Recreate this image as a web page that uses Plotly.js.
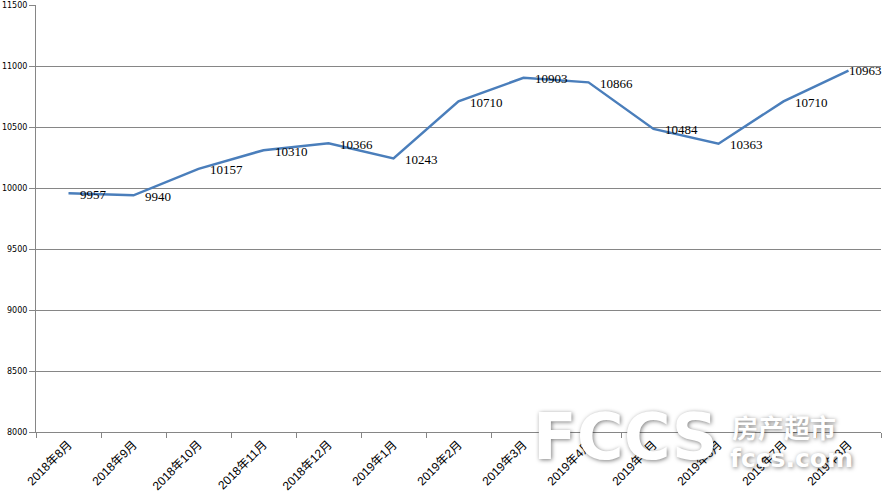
<!DOCTYPE html>
<html>
<head>
<meta charset="utf-8">
<script src="https://cdn.plot.ly/plotly-3.0.1.min.js"></script>
<style>
  html, body { margin: 0; padding: 0; background: #fff; }
  #chart { width: 884px; height: 502px; }
</style>
</head>
<body>
<div id="chart"></div>
<script>
// Monthly average price, Aug 2018 – Aug 2019
const months = ['2018年8月', '2018年9月', '2018年10月', '2018年11月', '2018年12月',
  '2019年1月', '2019年2月', '2019年3月', '2019年4月', '2019年5月',
  '2019年6月', '2019年7月', '2019年8月'];
const prices = [9957, 9940, 10157, 10310, 10366, 10243, 10710, 10903, 10866, 10484, 10363, 10710, 10963];
const yTicks = [8000, 8500, 9000, 9500, 10000, 10500, 11000, 11500];

const axisGray = '#868686';
const shadow = '1px 1px 4px rgba(0,0,0,0.5)';

const trace = {
  x: months,
  y: prices,
  type: 'scatter',
  mode: 'lines',
  line: { color: '#4A7EBB', width: 2.5, shape: 'linear' },
  hoverinfo: 'skip'
};

// value labels sit just to the right of each point; the last one is
// pulled back so it stays inside the chart's right edge
const lastIdx = months.length - 1;
const valueLabels = months.map((m, i) => ({
  x: m,
  y: prices[i],
  xref: 'x', yref: 'y',
  text: String(prices[i]),
  showarrow: false,
  xanchor: 'left',
  yanchor: 'middle',
  xshift: i === lastIdx ? -2 : 9,
  yshift: i === lastIdx ? 0 : -1,
  font: { family: 'Liberation Serif, DejaVu Serif, serif', size: 13, color: '#000' }
}));

// site watermark in the lower right corner
const watermark = [
  {
    xref: 'paper', yref: 'paper', x: 0.81, y: -0.012, xanchor: 'right', yanchor: 'middle',
    text: '<b>FCCS</b>', showarrow: false,
    font: { family: 'DejaVu Sans, sans-serif', size: 64, color: '#ffffff', shadow: shadow }
  },
  {
    xref: 'paper', yref: 'paper', x: 0.821, y: 0.012, xanchor: 'left', yanchor: 'middle',
    text: '<b>房产超市</b>', showarrow: false,
    font: { family: 'Noto Sans CJK SC, sans-serif', size: 26, color: '#ffffff', shadow: shadow }
  },
  {
    xref: 'paper', yref: 'paper', x: 0.819, y: -0.061, xanchor: 'left', yanchor: 'middle',
    text: '<b>fccs.com</b>', showarrow: false,
    font: { family: 'DejaVu Sans, sans-serif', size: 25, color: '#ffffff', shadow: shadow }
  }
];

const layout = {
  width: 884,
  height: 502,
  margin: { l: 36, r: 3, t: 5, b: 70 },
  paper_bgcolor: '#fff',
  plot_bgcolor: '#fff',
  showlegend: false,
  xaxis: {
    type: 'category',
    range: [-0.5, months.length - 0.5],
    tickson: 'boundaries',
    ticks: 'outside',
    ticklen: 5,
    tickcolor: axisGray,
    tickangle: -45,
    tickfont: { family: 'Liberation Sans, Noto Sans CJK SC, sans-serif', size: 12, color: '#000' },
    showgrid: false,
    showline: true,
    linecolor: axisGray,
    linewidth: 1,
    zeroline: false,
    fixedrange: true
  },
  yaxis: {
    range: [8000, 11500],
    tickvals: yTicks,
    ticktext: yTicks.map(String),
    ticks: 'outside',
    ticklen: 6,
    tickcolor: axisGray,
    tickfont: { family: 'DejaVu Sans, sans-serif', size: 8, color: '#000' },
    showgrid: true,
    gridcolor: axisGray,
    gridwidth: 1,
    showline: true,
    linecolor: axisGray,
    linewidth: 1,
    zeroline: false,
    fixedrange: true
  },
  annotations: valueLabels.concat(watermark)
};

Plotly.newPlot('chart', [trace], layout, { displayModeBar: false, staticPlot: true });
</script>
</body>
</html>
